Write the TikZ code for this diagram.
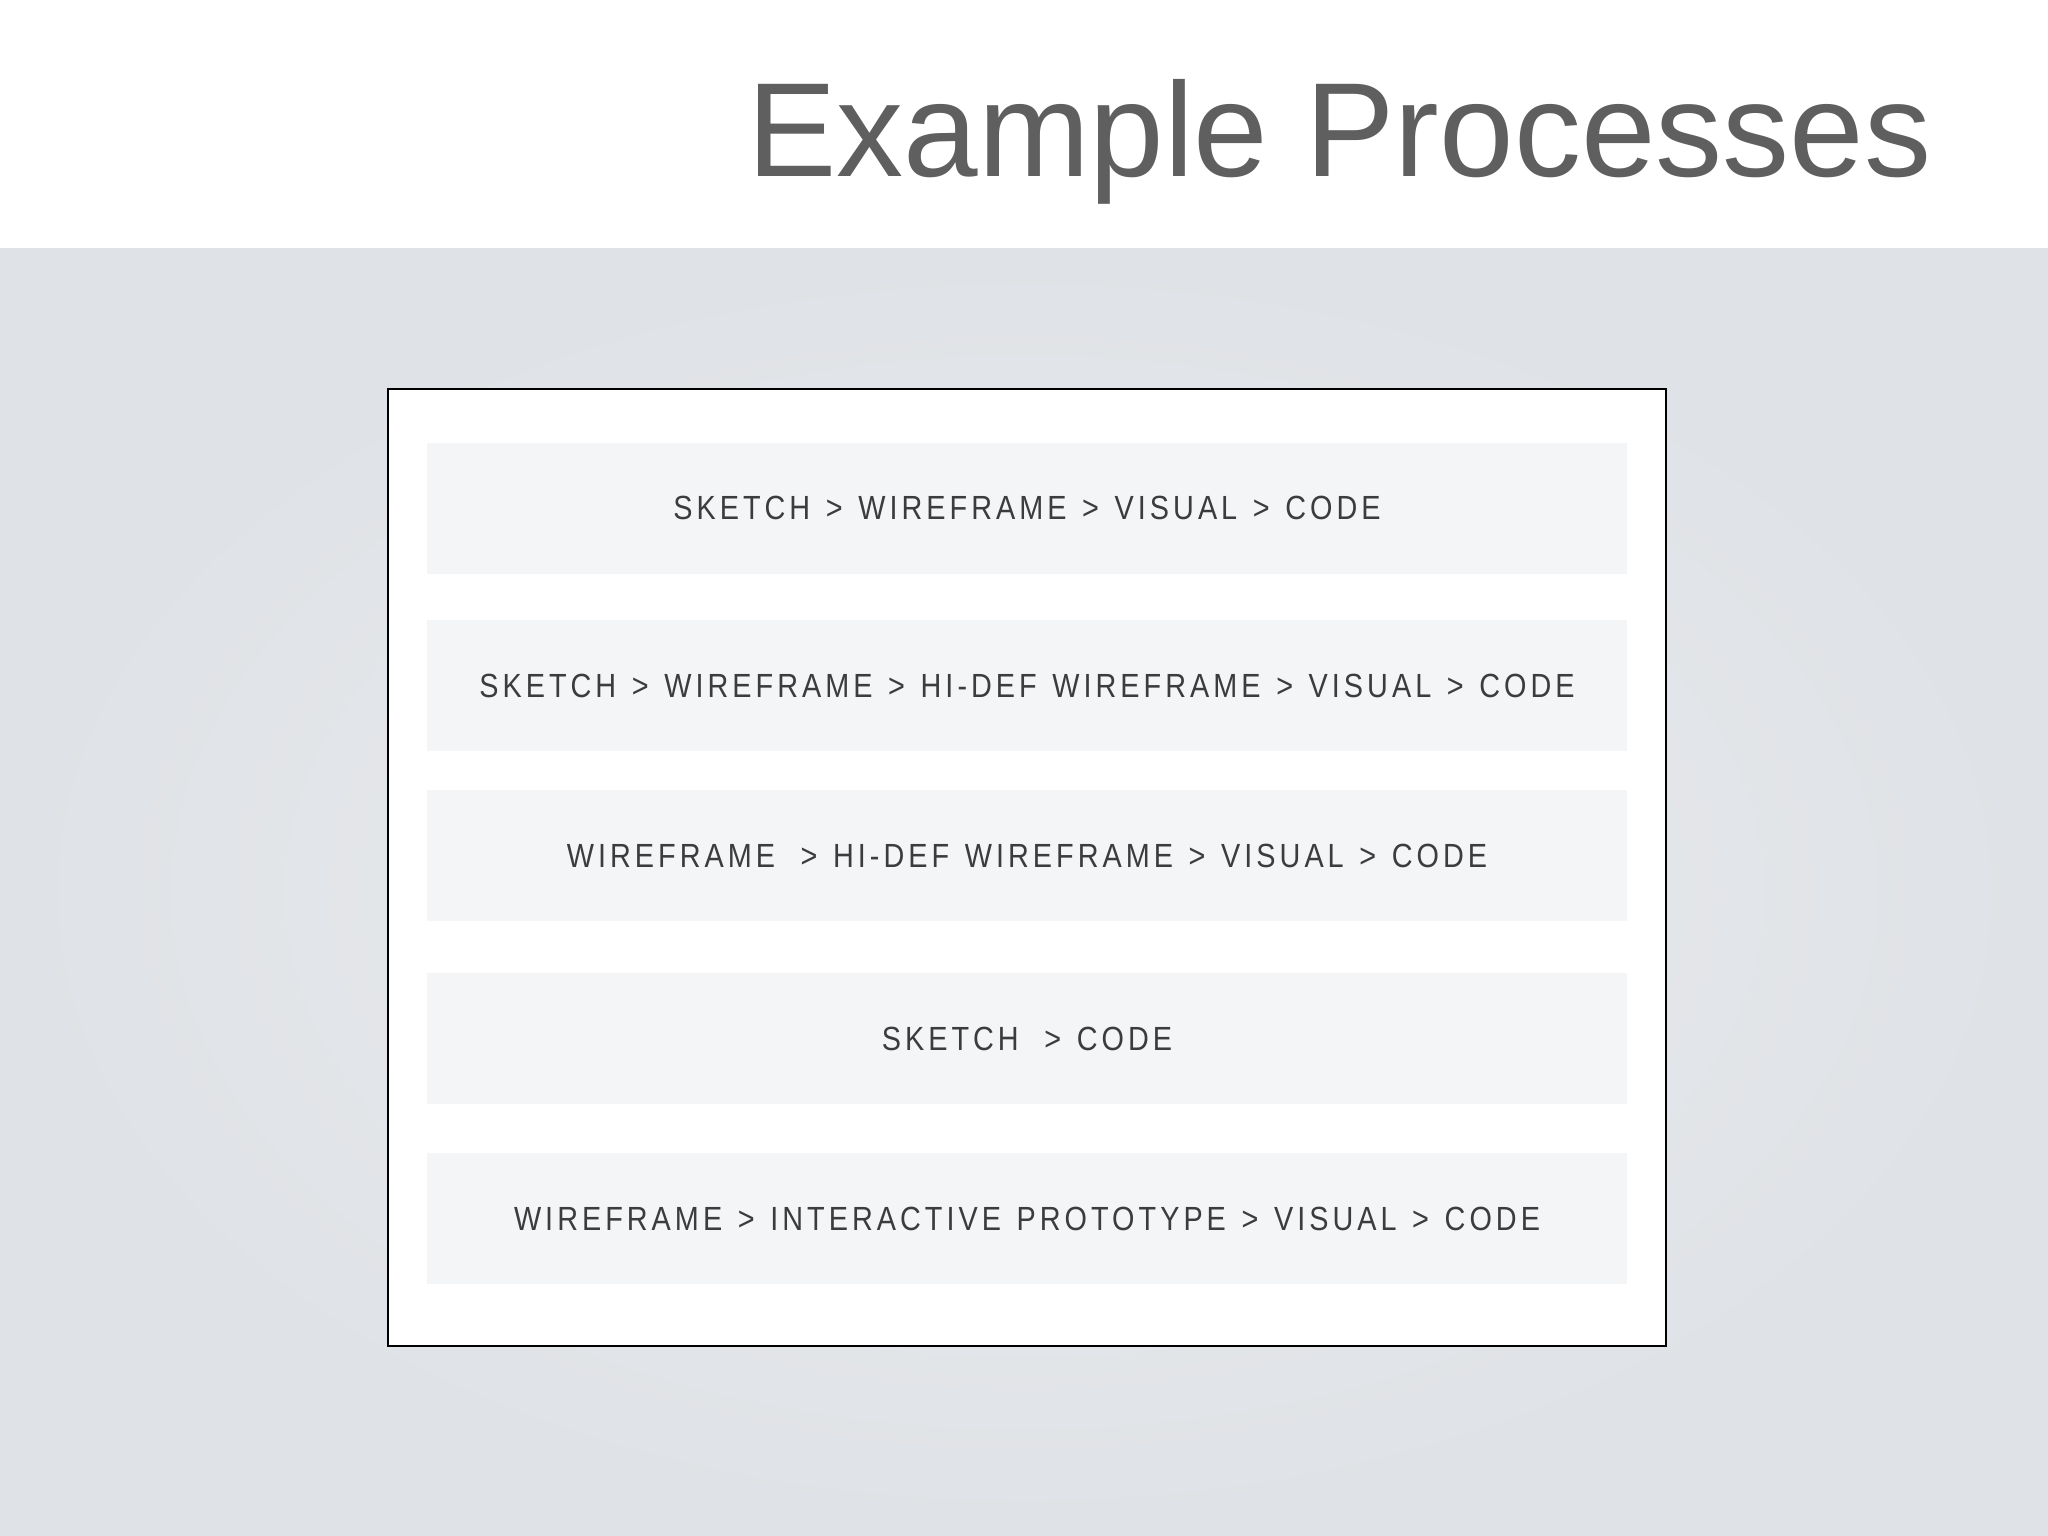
\documentclass[tikz,border=0pt]{standalone}
\usepackage{fontspec}
\setmainfont{Liberation Sans}
\newfontfamily\rowfont[LetterSpace=12,FakeStretch=0.86,WordSpace=1.3]{Liberation Sans}
\definecolor{titlegray}{HTML}{5F5F5F}
\definecolor{rowfill}{HTML}{F4F5F7}
\definecolor{rowtext}{HTML}{3C3C3C}
\definecolor{bginner}{HTML}{EAECEF}
\definecolor{bgouter}{HTML}{DFE2E6}
\tikzset{
  rowbox/.style={fill=rowfill, draw=none, minimum width=1200pt, minimum height=131pt, inner sep=0pt,
    font=\rowfont\fontsize{33.5}{40}\selectfont, text=rowtext},
}
\begin{document}
\begin{tikzpicture}[x=1pt,y=-1pt]
\useasboundingbox (0,0) rectangle (2048,1536);
% background
\shade[inner color=bginner, outer color=bgouter] (0,248) rectangle (2048,1536);
\fill[white] (0,0) rectangle (2048,248);
% title
\node[anchor=base west, inner sep=0pt, text=titlegray, font=\fontsize{134}{140}\selectfont] (title) at (747,176) {Example Processes};
% frame
\node[draw=black, line width=2pt, fill=white, minimum width=1278pt, minimum height=957pt, inner sep=0pt] (frame) at (1027,867.5) {};
% rows
\node[rowbox] (r1) at (1027,508) {SKETCH > WIREFRAME > VISUAL > CODE};
\node[rowbox] (r2) at (1027,685.5) {SKETCH > WIREFRAME > HI-DEF WIREFRAME > VISUAL > CODE};
\node[rowbox] (r3) at (1027,855.5) {WIREFRAME\hspace{10pt} > HI-DEF WIREFRAME > VISUAL > CODE};
\node[rowbox] (r4) at (1027,1038.5) {SKETCH\hspace{10pt} > CODE};
\node[rowbox] (r5) at (1027,1218.5) {WIREFRAME > INTERACTIVE PROTOTYPE > VISUAL > CODE};
\end{tikzpicture}
\end{document}
